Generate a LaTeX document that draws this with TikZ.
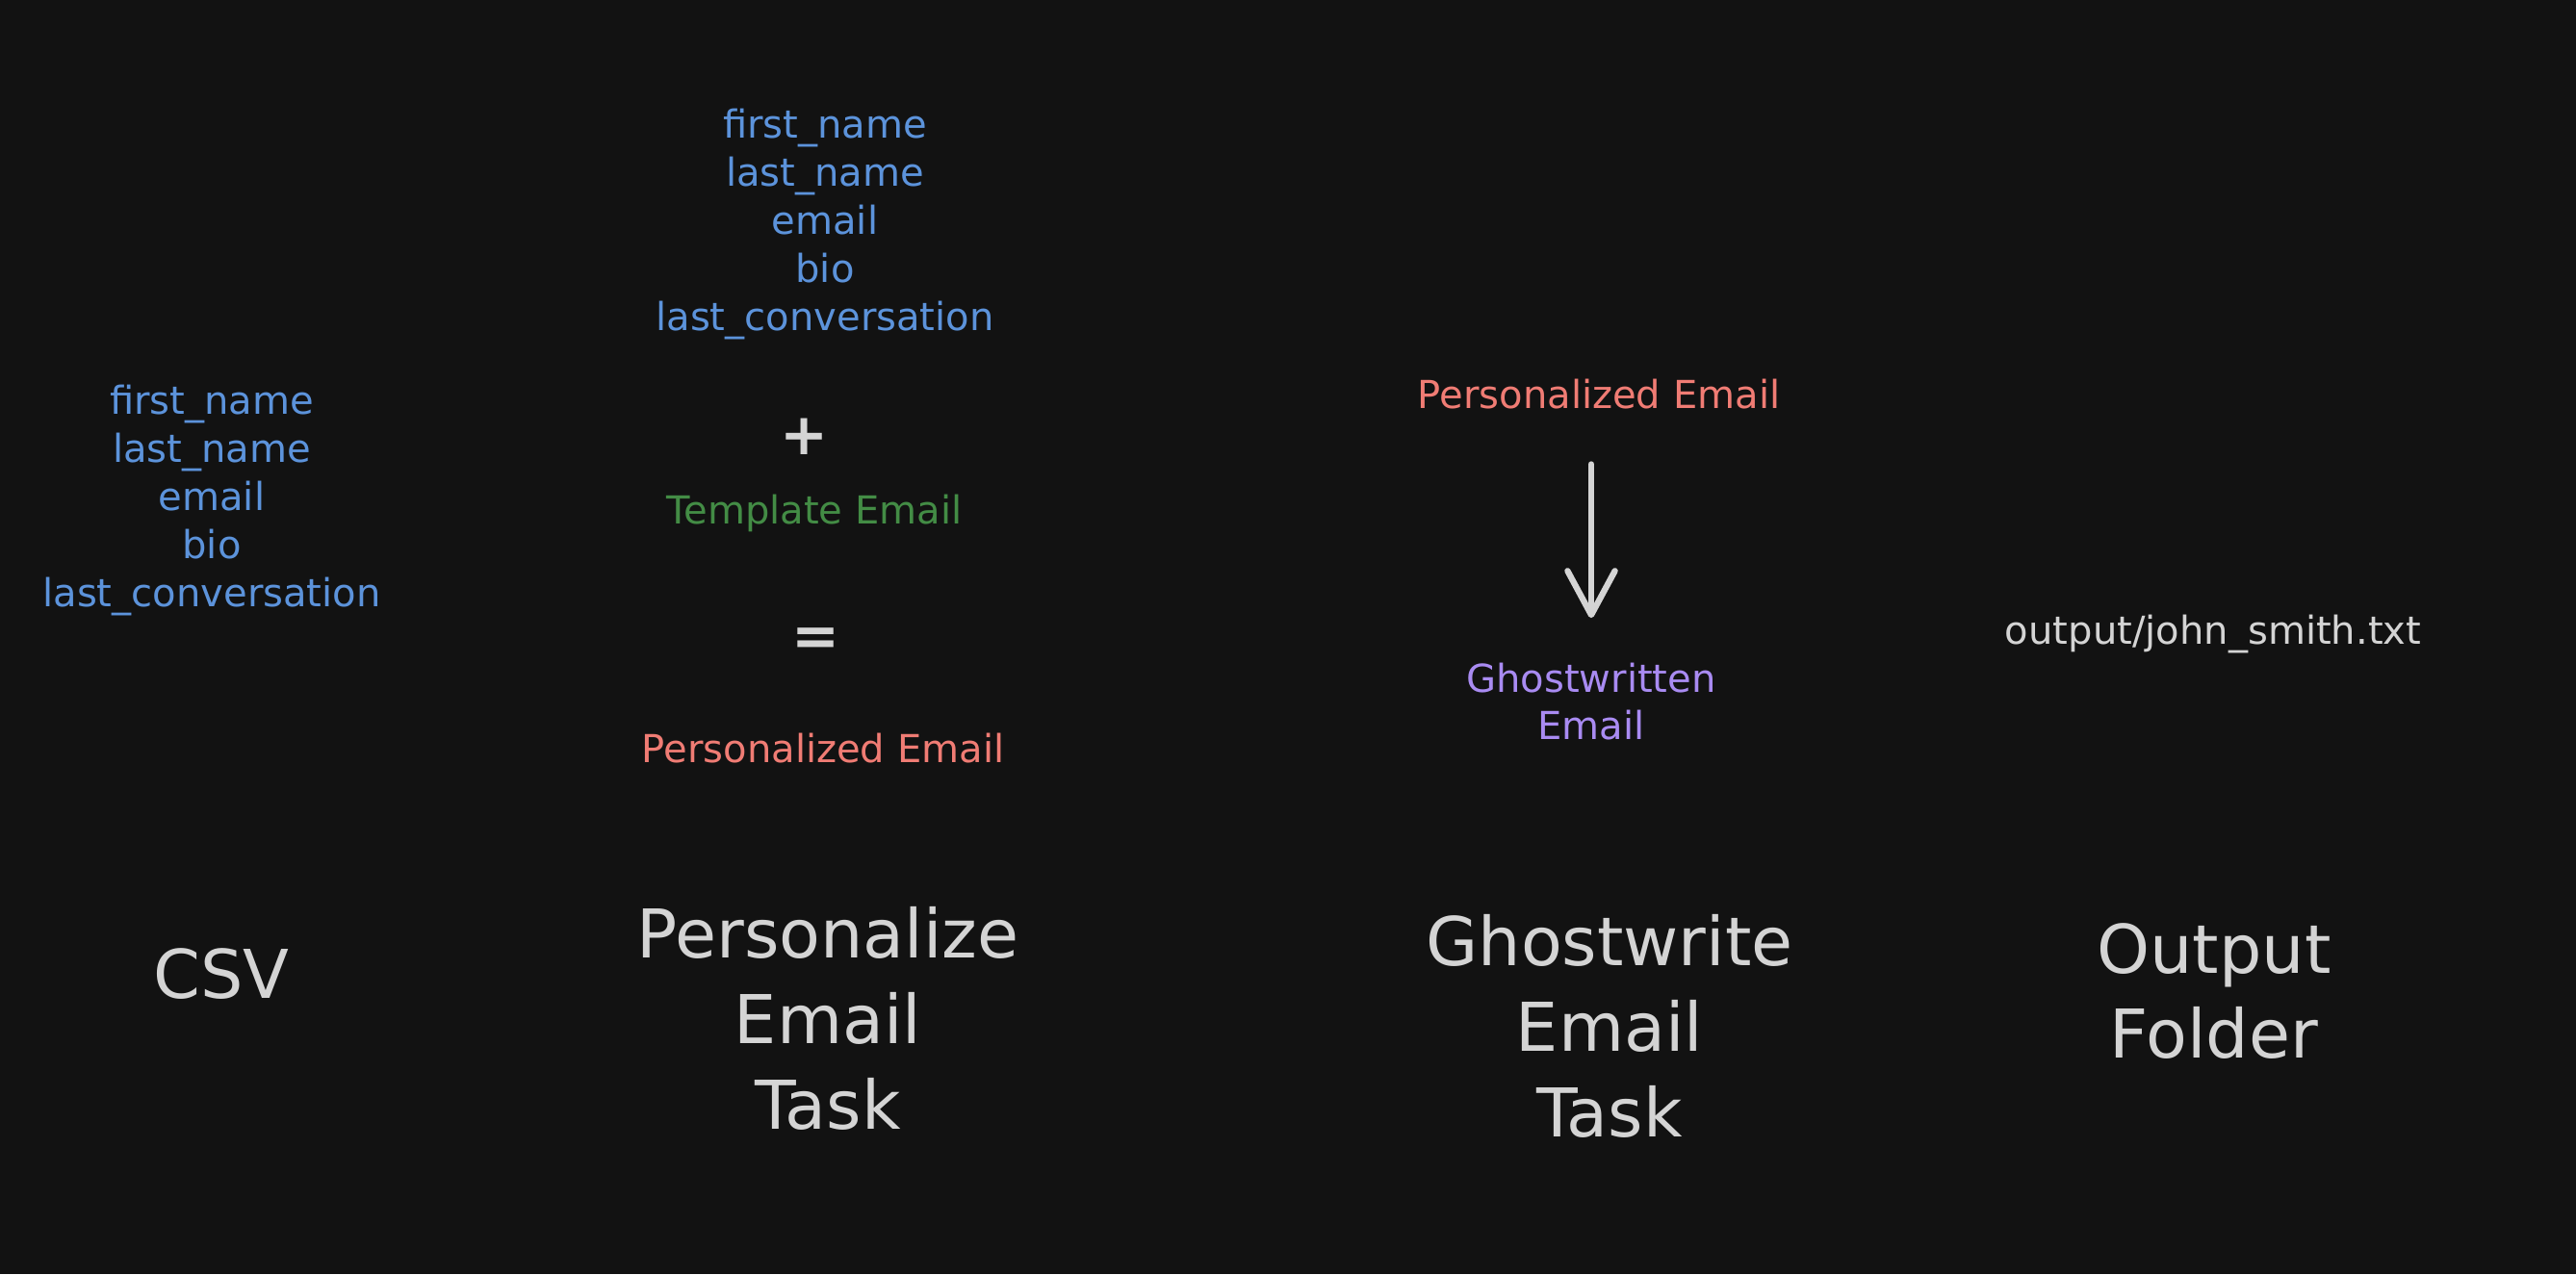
\documentclass[tikz,border=0pt]{standalone}
\usepackage{fontspec}
\setmainfont{DejaVu Sans}
\usetikzlibrary{arrows.meta}
\definecolor{bg}{HTML}{121212}
\definecolor{fg}{HTML}{D4D4D4}
\definecolor{cblue}{HTML}{5C93DB}
\definecolor{cgreen}{HTML}{438C45}
\definecolor{cred}{HTML}{F07C74}
\definecolor{cpurple}{HTML}{A98BF2}
\tikzset{
  small/.style={font=\fontsize{11.4pt}{14.2pt}\selectfont, align=center, inner sep=0pt},
  big/.style={font=\fontsize{19.9pt}{25.3pt}\selectfont, align=center, inner sep=0pt, text=fg},
  sym/.style={font=\fontsize{17pt}{20pt}\selectfont\bfseries, inner sep=0pt, text=fg},
  arr/.style={draw=fg, line width=1.8pt, line cap=round, -{Straight Barb[length=13pt,width=14pt,round]}},
}
\begin{document}
\begin{tikzpicture}
\fill[bg] (0,0) rectangle (26.76,-13.24);
\useasboundingbox (0,0) rectangle (26.76,-13.24);

% CSV column
\node[small, text=cblue] (csvf) at (2.20,-5.20) {first\_name\\last\_name\\email\\bio\\last\_conversation};
\node[big] (csv) at (2.30,-10.12) {CSV};

% Personalize column
\node[small, text=cblue] (pf) at (8.57,-2.33) {first\_name\\last\_name\\email\\bio\\last\_conversation};
\node[sym] (plus) at (8.36,-4.54) {+};
\node[small, text=cgreen] (tmpl) at (8.46,-5.33) {Template Email};
\node[sym] (eq) at (8.48,-6.67) {=};
\node[small, text=cred] (pe1) at (8.55,-7.78) {Personalized Email};
\node[big] (pet) at (8.60,-10.58) {Personalize\\Email\\Task};

% Ghostwrite column
\node[small, text=cred] (pe2) at (16.61,-4.10) {Personalized Email};
\node[small, text=cpurple] (gw) at (16.53,-7.29) {Ghostwritten\\Email};
\node[big] (gwt) at (16.72,-10.66) {Ghostwrite\\Email\\Task};
\draw[arr, shorten <=16pt, shorten >=13pt] (gw.north |- pe2.south) -- (gw.north);

% Output column
\node[small, text=fg] (path) at (22.99,-6.59) {output/john\_smith.txt};
\node[big] (of) at (23.00,-10.30) {Output\\Folder};
\end{tikzpicture}
\end{document}
